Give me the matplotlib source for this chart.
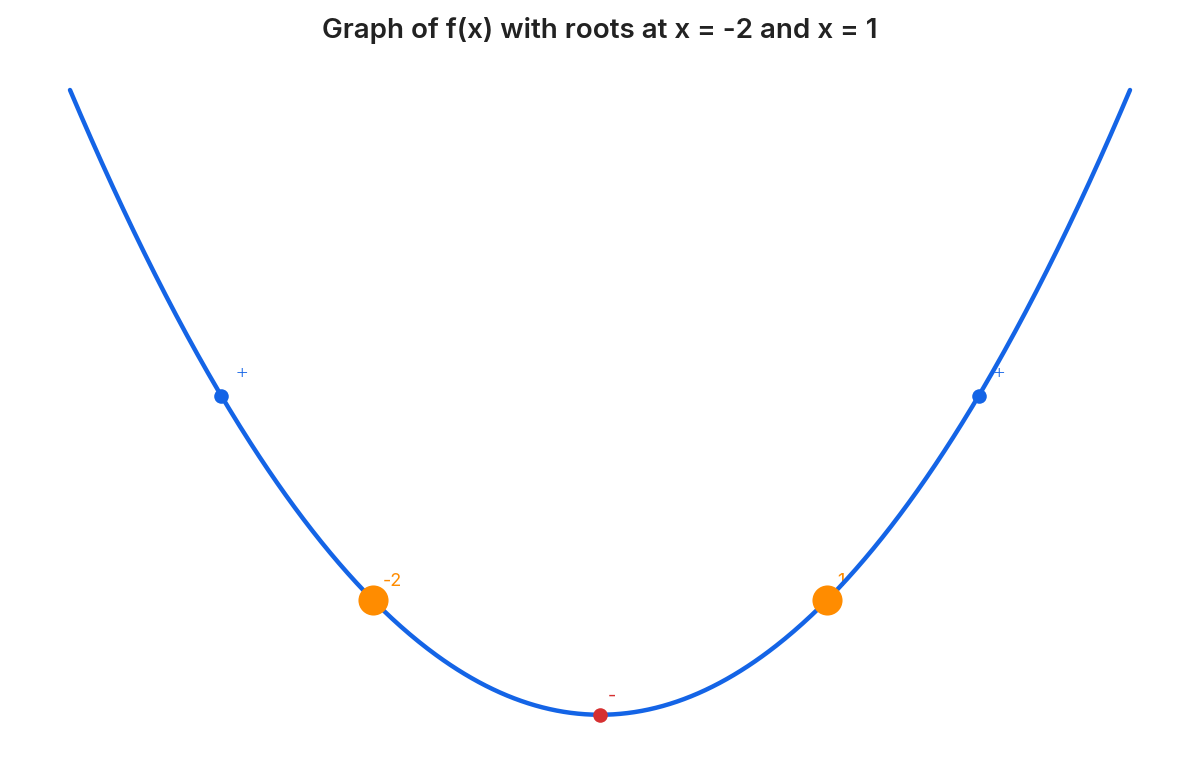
import numpy as np
import matplotlib
matplotlib.use("Agg")
import matplotlib.pyplot as plt

# Data
roots = [-2, 1]
x_range = [-4, 3]
sign_x = [-3, 2]          # test points where f > 0
sign_labels = ["+", "+"]
vertex_x = [-0.5]         # test point where f < 0
vertex_labels = ["-"]
root_labels = ["-2", "1"]
title = "Graph of f(x) with roots at x = -2 and x = 1"

def f(x):
    x = np.asarray(x, dtype=float)
    return (x - roots[0]) * (x - roots[1])

W, H, DPI = 1200, 763, 100
fig = plt.figure(figsize=(W / DPI, H / DPI), dpi=DPI)
fig.patch.set_facecolor("white")

ymin, ymax = float(f(vertex_x[0])), float(f(x_range[0]))
left_px, right_px = 70, 1130
top_px, bot_px = 90, 714.75
ax = fig.add_axes([left_px / W, (H - bot_px) / H, (right_px - left_px) / W, (bot_px - top_px) / H])
ax.set_xlim(x_range)
ax.set_ylim(ymin, ymax)
ax.axis("off")

BLUE = "#1464e6"
ORANGE = "#ff8c00"
RED = "#d63031"

xs = np.linspace(x_range[0], x_range[1], 600)
ax.plot(xs, f(xs), color=BLUE, lw=3.2, solid_capstyle="round", clip_on=False, zorder=2)

ax.scatter(sign_x, f(sign_x), s=110, color=BLUE, zorder=3, clip_on=False, linewidths=0)
ax.scatter(vertex_x, f(vertex_x), s=110, color=RED, zorder=3, clip_on=False, linewidths=0)
ax.scatter(roots, f(roots), s=470, color=ORANGE, zorder=4, clip_on=False, linewidths=0)

font = "Inter"
for xv, lab in zip(sign_x, sign_labels):
    ax.annotate(lab, (xv, float(f(xv))), xytext=(13, 24), textcoords="offset pixels",
                ha="left", va="center", color=BLUE, fontsize=16, fontweight="light",
                family=font, zorder=1)
for xv, lab in zip(vertex_x, vertex_labels):
    ax.annotate(lab, (xv, float(f(xv))), xytext=(8, 14), textcoords="offset pixels",
                ha="left", va="baseline", color=RED, fontsize=13, family=font, zorder=1)
for xv, lab in zip(roots, root_labels):
    ax.annotate(lab, (xv, float(f(xv))), xytext=(10, 14), textcoords="offset pixels",
                ha="left", va="baseline", color=ORANGE, fontsize=13, family=font, zorder=1)

fig.text(0.5, 1 - 30 / H, title, ha="center", va="center", fontsize=20,
         fontweight="semibold", family=font, color="#222222")

fig.savefig("out.png", dpi=DPI, facecolor="white")
